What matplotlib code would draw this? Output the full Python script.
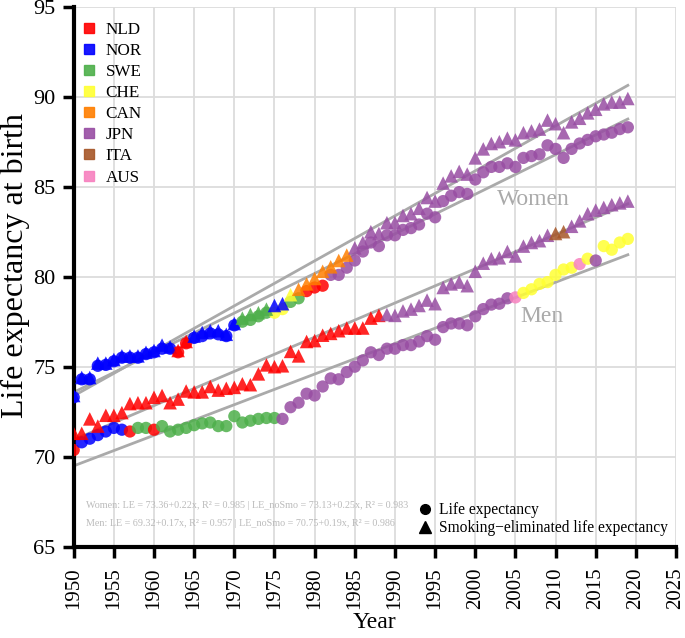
import numpy as np
import matplotlib
matplotlib.use("Agg")
import matplotlib.pyplot as plt
from matplotlib.lines import Line2D

plt.rcParams['font.family'] = ['Liberation Serif', 'DejaVu Serif']

years = list(range(1950, 2020))

women_le = [73.3, 74.3, 74.3, 75.05, 75.1, 75.3, 75.5, 75.5, 75.5, 75.7,
            75.8, 76.0, 76.0, 75.8, 76.3, 76.6, 76.7, 76.85, 76.8, 76.7,
            77.3, 77.5, 77.6, 77.8, 78.0, 78.0, 78.2, 78.6, 78.8, 79.2,
            79.4, 79.5, 80.1, 80.1, 80.5, 80.9, 81.4, 81.9, 81.7, 82.3,
            82.3, 82.6, 82.7, 82.9, 83.5, 83.3, 84.2, 84.5, 84.7, 84.6,
            85.4, 85.8, 86.1, 86.1, 86.3, 86.1, 86.6, 86.7, 86.8, 87.3,
            87.1, 86.6, 87.1, 87.4, 87.6, 87.8, 87.9, 88.0, 88.2, 88.3]
women_nosmo = [73.4, 74.4, 74.4, 75.2, 75.2, 75.4, 75.6, 75.6, 75.6, 75.8,
               75.9, 76.2, 76.1, 75.9, 76.4, 76.7, 76.9, 77.0, 77.0, 76.8,
               77.4, 77.7, 77.9, 78.0, 78.2, 78.4, 78.5, 79.0, 79.3, 79.6,
               79.9, 80.3, 80.55, 80.9, 81.2, 81.6, 81.9, 82.5, 82.4, 83.0,
               83.0, 83.4, 83.5, 83.8, 84.4, 84.2, 85.2, 85.6, 85.85, 85.7,
               86.6, 87.1, 87.4, 87.5, 87.7, 87.6, 88.0, 88.1, 88.2, 88.7,
               88.5, 88.0, 88.6, 88.8, 89.1, 89.3, 89.6, 89.7, 89.7, 89.9]
men_le = [70.37, 70.8, 71.0, 71.2, 71.4, 71.6, 71.5, 71.4, 71.6, 71.6,
          71.5, 71.7, 71.4, 71.5, 71.6, 71.75, 71.85, 71.9, 71.7, 71.7,
          72.25, 71.9, 72.0, 72.1, 72.15, 72.15, 72.1, 72.75, 73.0, 73.5,
          73.4, 73.9, 74.35, 74.3, 74.7, 75.0, 75.35, 75.8, 75.65, 76.0,
          76.0, 76.2, 76.2, 76.4, 76.7, 76.5, 77.2, 77.4, 77.4, 77.3,
          77.8, 78.2, 78.45, 78.5, 78.8, 78.85, 79.1, 79.3, 79.6, 79.7,
          80.1, 80.4, 80.5, 80.7, 81.0, 80.9, 81.7, 81.5, 81.9, 82.1]
men_nosmo = [71.3, 71.3, 72.1, 71.7, 72.3, 72.3, 72.45, 72.95, 73.0, 73.0,
             73.3, 73.4, 73.0, 73.2, 73.65, 73.6, 73.6, 73.9, 73.7, 73.8,
             73.85, 74.05, 74.0, 74.6, 75.1, 75.0, 75.05, 75.85, 75.6, 76.4,
             76.45, 76.75, 76.85, 77.0, 77.15, 77.15, 77.15, 77.7, 77.85, 77.9,
             77.85, 78.1, 78.2, 78.4, 78.7, 78.5, 79.4, 79.6, 79.7, 79.5,
             80.3, 80.75, 81.0, 81.05, 81.4, 81.15, 81.7, 81.9, 82.0, 82.3,
             82.4, 82.5, 82.8, 83.1, 83.5, 83.7, 83.85, 84.0, 84.1, 84.2]

# country of the record holder, as (country, number of consecutive years)
women_le_runs = [("NOR", 13), ("NLD", 2), ("NOR", 6), ("SWE", 4), ("CHE", 2),
                 ("SWE", 2), ("NLD", 3), ("JPN", 38)]
women_nosmo_runs = [("NOR", 13), ("NLD", 2), ("NOR", 6), ("SWE", 4), ("NOR", 2),
                    ("CHE", 1), ("CAN", 7), ("JPN", 35)]
men_le_runs = [("NLD", 1), ("NOR", 6), ("NLD", 1), ("SWE", 2), ("NLD", 1),
               ("SWE", 15), ("JPN", 29), ("AUS", 1), ("CHE", 7), ("AUS", 1),
               ("CHE", 1), ("JPN", 1), ("CHE", 4)]
men_nosmo_runs = [("NLD", 39), ("JPN", 21), ("ITA", 2), ("JPN", 8)]

countries = ["NLD", "NOR", "SWE", "CHE", "CAN", "JPN", "ITA", "AUS"]
country_colors = ["#ff0000", "#0000ff", "#4daf4a", "#ffff33", "#ff7f00",
                  "#984ea3", "#a65628", "#f781bf"]

# regression lines: LE = a + b*x, x = year - 1949
fit_labels = ["women_le", "women_nosmo", "men_le", "men_nosmo"]
fit_a = [73.36, 73.13, 69.32, 70.75]
fit_b = [0.22, 0.25, 0.17, 0.19]

xticks = list(range(1950, 2030, 5))
yticks = list(range(65, 100, 5))

cmap = dict(zip(countries, country_colors))

def expand(runs):
    out = []
    for c, n in runs:
        out += [c] * n
    return out

fig = plt.figure(figsize=(6.85, 6.38), dpi=100)
ax = fig.add_axes([0.1076, 0.1431, 0.8793, 0.8464])
ax.set_xlim(1950, 2025)
ax.set_ylim(65, 95)
ax.set_xticks(xticks)
ax.set_yticks(yticks)
ax.grid(True, color="#dcdcdc", lw=1.3)
ax.set_axisbelow(True)
for s in ["top", "right"]:
    ax.spines[s].set_visible(False)
for s in ["left", "bottom"]:
    ax.spines[s].set_linewidth(3)
ax.tick_params(axis="both", width=2.5, length=8, labelsize=16, direction="out")
ax.tick_params(axis="x", labelrotation=90, pad=7, labelsize=15)
ax.tick_params(axis="y", pad=5)

yrs = np.array(years)
for a, b in zip(fit_a, fit_b):
    ax.plot(yrs, a + b * (yrs - 1949), color="#aaaaaa", lw=2, zorder=2)

series = [(women_le, women_le_runs, "o"), (men_le, men_le_runs, "o"),
          (women_nosmo, women_nosmo_runs, "^"), (men_nosmo, men_nosmo_runs, "^")]
for vals, runs, mk in series:
    cols = [cmap[c] for c in expand(runs)]
    ax.scatter(years, vals, c=cols, marker=mk, s=78 if mk == "o" else 95,
               alpha=0.85, linewidths=0, zorder=3)

ax.text(2007.2, 84.3, "Women", color="#aaaaaa", fontsize=17, ha="center", va="center")
ax.text(2008.3, 77.8, "Men", color="#aaaaaa", fontsize=17, ha="center", va="center")

ax.text(1951.5, 67.3, "Women: LE = 73.36+0.22x, R² = 0.985 | LE_noSmo = 73.13+0.25x, R² = 0.983",
        fontsize=7.3, color="#bbbbbb", va="center")
ax.text(1951.5, 66.3, "Men: LE = 69.32+0.17x, R² = 0.957 | LE_noSmo = 70.75+0.19x, R² = 0.986",
        fontsize=7.3, color="#bbbbbb", va="center")

ax.set_xlabel("Year", fontsize=17, labelpad=2)
ax.set_ylabel("Life expectancy at birth", fontsize=23)
ax.yaxis.set_label_coords(-0.072, 0.52)

handles = [Line2D([], [], marker="s", ls="", color=c, markersize=7, alpha=0.9)
           for c in country_colors]
leg1 = ax.legend(handles, countries, loc="upper left", bbox_to_anchor=(-0.008, 0.9945),
                 frameon=False, fontsize=12.3, handletextpad=0.45, labelspacing=0.3,
                 handlelength=1.0, borderaxespad=0.3)
ax.add_artist(leg1)
shape_handles = [Line2D([], [], marker="o", ls="", color="black", markersize=7),
                 Line2D([], [], marker="^", ls="", color="black", markersize=8)]
ax.legend(shape_handles, ["Life expectancy", "Smoking\u2212eliminated life expectancy"],
          loc="upper left", bbox_to_anchor=(0.571, 0.0828), frameon=False, fontsize=11.2,
          handletextpad=0.35, labelspacing=0.15, handlelength=1.0,
          borderaxespad=0, borderpad=0)

fig.savefig("out.png", dpi=100)
